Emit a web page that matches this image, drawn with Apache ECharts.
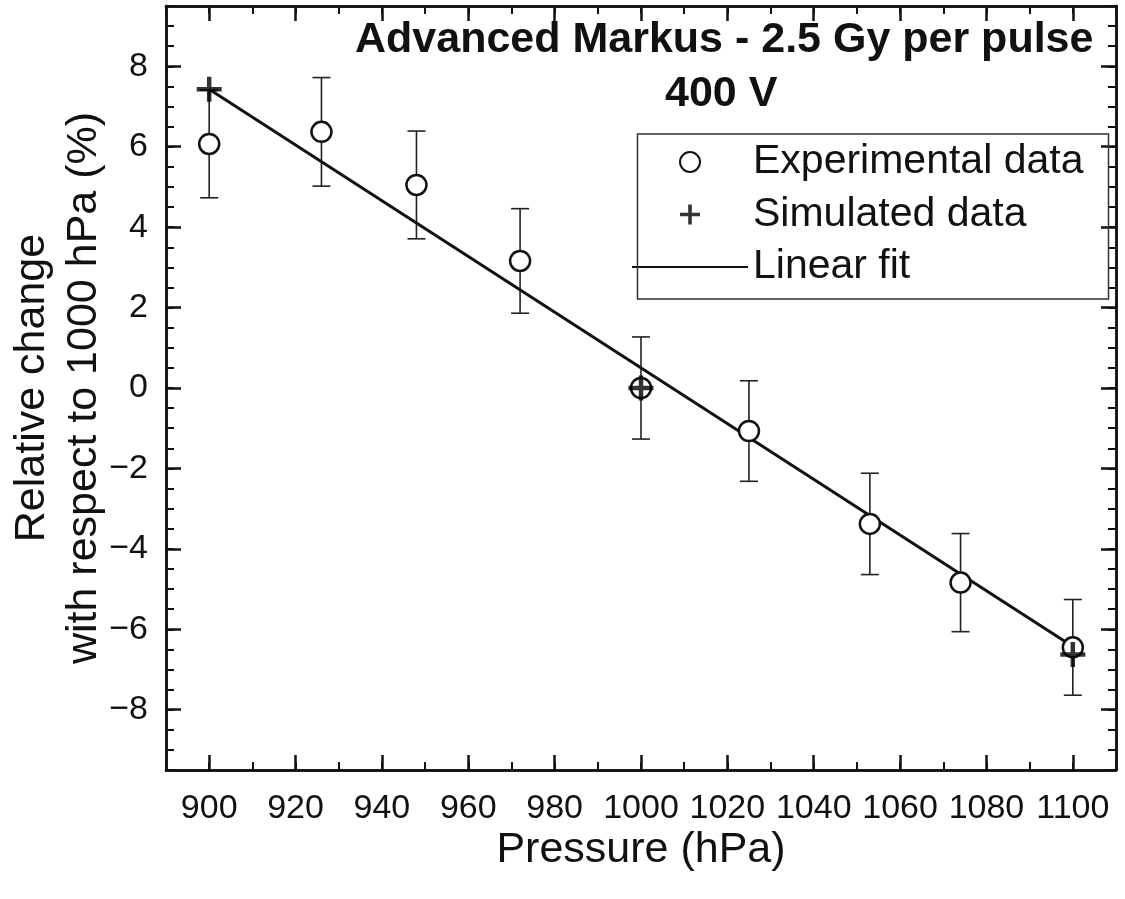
<!DOCTYPE html>
<html lang="en">
<head>
    <meta charset="UTF-8">
    <title>Advanced Markus - pressure dependence</title>
    <script src="https://cdn.jsdelivr.net/npm/echarts@6/dist/echarts.min.js"></script>
    <style>
        html, body { margin: 0; padding: 0; background: #fff; }
        #chart { width: 1125px; height: 899px; }
    </style>
</head>
<body>
    <div id="chart"></div>
    <script>
    const pressure = [900, 926, 948, 972, 1000, 1025, 1053, 1074, 1100];
    const expValues = [6.07, 6.37, 5.05, 3.16, 0.0, -1.07, -3.38, -4.84, -6.45];
    const expErrors = [1.34, 1.35, 1.34, 1.30, 1.27, 1.25, 1.26, 1.22, 1.19];

    const simPressure = [900, 1000, 1100];
    const simValues = [7.43, 0.0, -6.63];

    const fitPressure = [900, 1100];
    const fitValues = [7.43, -6.43];

    // tick labels
    const xMajorTicks = [900, 920, 940, 960, 980, 1000, 1020, 1040, 1060, 1080, 1100];
    const yMajorTicks = [-8, -6, -4, -2, 0, 2, 4, 6, 8];

    const INK = '#111';
    const FONT = 'Liberation Sans, Arial, sans-serif';
    const plusPath = 'path://M0,8.2H20V11.8H0Z M8.2,0H11.8V20H8.2Z';

    const expData = pressure.map((p, i) => [p, expValues[i]]);
    const errData = pressure.map((p, i) => [p, expValues[i] - expErrors[i], expValues[i] + expErrors[i]]);
    const simData = simPressure.map((p, i) => [p, simValues[i]]);
    const fitData = fitPressure.map((p, i) => [p, fitValues[i]]);

    const fmtY = v => (v < 0 ? '\u2212' + Math.abs(v) : String(v));
    const fmtX = v => String(v);

    // one frame side = axis with minor ticks + overlay axis with major ticks
    function xAxisPair(pos, withLabels) {
        const base = {
            type: 'value', position: pos, min: 890, max: 1110,
            splitLine: { show: false },
            axisLine: { show: true, onZero: false, lineStyle: { color: INK, width: 2.5 } }
        };
        const minor = Object.assign({}, base, {
            interval: 10,
            axisTick: { inside: true, length: 8, lineStyle: { color: INK, width: 2 } },
            axisLabel: withLabels
                ? { customValues: xMajorTicks, formatter: fmtX, fontSize: 34, color: INK, margin: 22, fontFamily: FONT }
                : { show: false }
        });
        if (withLabels) {
            minor.name = 'Pressure (hPa)';
            minor.nameLocation = 'middle';
            minor.nameGap = 59;
            minor.nameMoveOverlap = false;
            minor.nameTextStyle = { fontSize: 43, color: INK, fontFamily: FONT };
        }
        const major = Object.assign({}, base, {
            axisTick: { inside: true, length: 15, customValues: xMajorTicks, lineStyle: { color: INK, width: 2.5 } },
            axisLabel: { show: false }
        });
        return [minor, major];
    }

    function yAxisPair(pos, withLabels) {
        const base = {
            type: 'value', position: pos, min: -9.5, max: 9.5,
            splitLine: { show: false },
            axisLine: { show: true, onZero: false, lineStyle: { color: INK, width: 2.5 } }
        };
        const minor = Object.assign({}, base, {
            interval: 0.5,
            axisTick: { inside: true, length: 8, lineStyle: { color: INK, width: 2 } },
            axisLabel: withLabels
                ? { customValues: yMajorTicks, formatter: fmtY, fontSize: 34, color: INK, margin: 18, fontFamily: FONT }
                : { show: false }
        });
        if (withLabels) {
            minor.name = 'Relative change\nwith respect to 1000 hPa (%)';
            minor.nameLocation = 'middle';
            minor.nameGap = 56;
            minor.nameMoveOverlap = false;
            minor.nameTextStyle = { fontSize: 43, lineHeight: 52, color: INK, fontFamily: FONT };
        }
        const major = Object.assign({}, base, {
            axisTick: { inside: true, length: 15, customValues: yMajorTicks, lineStyle: { color: INK, width: 2.5 } },
            axisLabel: { show: false }
        });
        return [minor, major];
    }

    const chart = echarts.init(document.getElementById('chart'));
    chart.setOption({
        animation: false,
        backgroundColor: '#fff',
        textStyle: { fontFamily: FONT },
        grid: { left: 166, right: 9, top: 6, bottom: 129, containLabel: false, outerBoundsMode: 'none' },
        title: [
            { text: 'Advanced Markus - 2.5 Gy per pulse', left: 355, top: 19, padding: 0,
              textStyle: { fontSize: 43, fontWeight: 'bold', color: INK, fontFamily: FONT } },
            { text: '400 V', left: 665, top: 73, padding: 0,
              textStyle: { fontSize: 43, fontWeight: 'bold', color: INK, fontFamily: FONT } }
        ],
        legend: {
            orient: 'vertical', left: 631, top: 141.5, padding: 0,
            itemWidth: 116, itemHeight: 20, itemGap: 11.5,
            textStyle: { fontSize: 41, lineHeight: 41, color: INK, fontFamily: FONT },
            data: [
                { name: 'Experimental data', itemStyle: { color: '#fff', borderColor: INK, borderWidth: 2 } },
                { name: 'Simulated data' },
                { name: 'Linear fit', itemStyle: { color: 'rgba(0,0,0,0)', borderWidth: 0, opacity: 0 } }
            ]
        },
        graphic: [{
            type: 'rect', left: 635, top: 131.5, z: 100,
            shape: { width: 471, height: 165 },
            style: { fill: 'none', stroke: '#333', lineWidth: 1.5 }
        }],
        xAxis: xAxisPair('bottom', true).concat(xAxisPair('top', false)),
        yAxis: yAxisPair('left', true).concat(yAxisPair('right', false)),
        series: [
            {
                name: 'error', type: 'custom', xAxisIndex: 0, yAxisIndex: 0,
                data: errData, encode: { x: 0, y: [1, 2] }, z: 1,
                renderItem: function (params, api) {
                    const lo = api.coord([api.value(0), api.value(1)]);
                    const hi = api.coord([api.value(0), api.value(2)]);
                    const half = 9;
                    const st = { stroke: '#222', lineWidth: 1.6 };
                    return {
                        type: 'group',
                        children: [
                            { type: 'line', shape: { x1: hi[0], y1: hi[1], x2: lo[0], y2: lo[1] }, style: st },
                            { type: 'line', shape: { x1: hi[0] - half, y1: hi[1], x2: hi[0] + half, y2: hi[1] }, style: st },
                            { type: 'line', shape: { x1: lo[0] - half, y1: lo[1], x2: lo[0] + half, y2: lo[1] }, style: st }
                        ]
                    };
                }
            },
            {
                name: 'Linear fit', type: 'line', xAxisIndex: 0, yAxisIndex: 0,
                data: fitData, symbol: 'none', z: 2,
                lineStyle: { color: INK, width: 3 }, itemStyle: { color: INK }
            },
            {
                name: 'Experimental data', type: 'scatter', xAxisIndex: 0, yAxisIndex: 0,
                data: expData, symbol: 'circle', symbolSize: 20, z: 3,
                itemStyle: { color: '#fff', borderColor: INK, borderWidth: 2.5, opacity: 1 }
            },
            {
                name: 'Simulated data', type: 'scatter', xAxisIndex: 0, yAxisIndex: 0,
                data: simData, symbol: plusPath, symbolSize: 25, symbolKeepAspect: true, z: 4,
                itemStyle: { color: '#000' }
            }
        ]
    });
    </script>
</body>
</html>
